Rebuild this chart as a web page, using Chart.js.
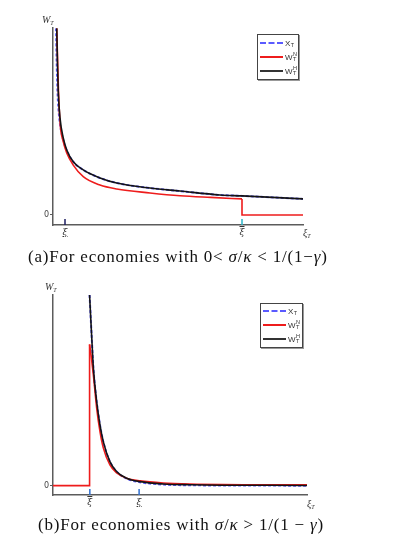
<!DOCTYPE html>
<html>
<head>
<meta charset="utf-8">
<script src="https://cdn.jsdelivr.net/npm/chart.js@4.4.0/dist/chart.umd.min.js"></script>
<style>
  body { margin: 0; background: #fff; }
  #page { position: relative; width: 404px; height: 547px; overflow: hidden; }
  .panel { position: absolute; left: 0; width: 404px; height: 245px; }
  .lbl { position: absolute; font-family: "Liberation Serif", serif; font-style: italic; font-size: 10px; color: #333; line-height: 10px; white-space: nowrap; }
  .lbl sub { font-size: 6px; vertical-align: -2px; }
  .xi { position: absolute; transform: translateX(-50%); font-family: "DejaVu Serif", serif; font-style: italic; font-size: 9px; line-height: 9px; color: #333; }
  .xi.under { text-decoration: underline; }
  .xi.over { text-decoration: overline; }
  .legend { position: absolute; border: 1px solid #444; box-shadow: 1px 1px 0 #999; background: #fff;
            font-family: "Liberation Sans", sans-serif; font-size: 8px; color: #333; }
  .row { height: 14px; display: flex; align-items: center; padding-left: 2px; }
  .sample { width: 23px; margin-right: 2px; }
  .ss { display: inline-flex; flex-direction: column; font-size: 5.5px; line-height: 5px; margin-left: 0.5px; }
  .caption { position: absolute; font-family: "Liberation Serif", serif; font-size: 17px; letter-spacing: 0.8px; line-height: 20px; color: #111; white-space: nowrap; }
</style>
</head>
<body>
<div id="page">
  <div class="panel" id="boxA" style="top:0px"><canvas id="chartA" width="404" height="245"></canvas></div>
  <div class="panel" id="boxB" style="top:270px"><canvas id="chartB" width="404" height="245"></canvas></div>

  <div class="lbl" style="left:42px; top:15px">W<sub>T</sub></div>
  <div class="lbl" style="left:303px; top:228px">ξ<sub>T</sub></div>
  <div class="lbl" style="left:45px; top:282px">W<sub>T</sub></div>
  <div class="lbl" style="left:307px; top:499px">ξ<sub>T</sub></div>

  <div class="legend" style="left:257px; top:34px; width:40px; height:43px; padding-top:1px">
    <div class="row"><span class="sample" style="border-top:2px dashed #5a5aff"></span>X<span class="ss"><span>&nbsp;</span><span>T</span></span></div>
    <div class="row"><span class="sample" style="height:1.5px; background:#ee1c1c"></span>W<span class="ss"><span>N</span><span>T</span></span></div>
    <div class="row"><span class="sample" style="height:1.5px; background:#333"></span>W<span class="ss"><span>H</span><span>T</span></span></div>
  </div>
  <div class="legend" style="left:260px; top:303px; width:41px; height:43px">
    <div class="row"><span class="sample" style="border-top:2px dashed #5a5aff"></span>X<span class="ss"><span>&nbsp;</span><span>T</span></span></div>
    <div class="row"><span class="sample" style="height:1.5px; background:#ee1c1c"></span>W<span class="ss"><span>N</span><span>T</span></span></div>
    <div class="row"><span class="sample" style="height:1.5px; background:#333"></span>W<span class="ss"><span>H</span><span>T</span></span></div>
  </div>

  <div class="caption" style="left:28px; top:247px">(a)For economies with 0&lt; <i>σ</i>/<i>κ</i> &lt; 1/(1−<i>γ</i>)</div>
  <div class="caption" style="left:38px; top:515px">(b)For economies with <i>σ</i>/<i>κ</i> &gt; 1/(1 − <i>γ</i>)</div>
</div>

<script>
// panel (a): 0 < sigma/kappa < 1/(1-gamma)
const xiA = [4.8, 75.6];
const xiKindsA = ['under', 'over'];
const xXA = [1.2, 1.5, 1.8, 2.5, 3.9, 5.4, 8.1, 12.1, 18.8, 25.5, 38.8, 50.8, 66.8, 75.6, 100];
const yXA = [99.8, 80, 65.9, 51.9, 41.2, 34.8, 28.5, 24.1, 19.8, 17.1, 14.4, 12.8, 10.7, 10.2, 8.6];
const xHA = [1.5, 1.8, 2.1, 2.8, 4.1, 5.5, 8.1, 12.1, 18.8, 25.5, 38.8, 50.8, 66.8, 75.6, 100];
const wHA = [99.8, 80, 65.9, 51.9, 41.2, 34.8, 28.5, 24.1, 19.8, 17.1, 14.4, 12.8, 10.7, 10.2, 8.6];
const xNA = [1.5, 2.2, 2.9, 4.1, 5.5, 8.1, 12.1, 18.8, 25.5, 38.8, 50.8, 63.0, 75.6, 75.6, 100];
const wNA = [99.8, 65.9, 48.1, 39.2, 33.2, 26.7, 20.5, 16.0, 13.9, 11.8, 10.3, 9.4, 8.6, 0, 0];

// panel (b): sigma/kappa > 1/(1-gamma)
const xiB = [14.5, 33.9];
const xiKindsB = ['over', 'under'];
const xHB = [14.4, 15.2, 15.9, 17.2, 18.5, 19.8, 22.4, 25.1, 29.0, 34.3, 43.4, 53.9, 100];
const wHB = [100, 79.0, 61.7, 44.0, 31.8, 23.1, 12.6, 7.3, 3.9, 2.1, 0.9, 0.5, 0.1];
const yXB = [100, 79.0, 61.7, 44.0, 31.8, 23.1, 12.6, 7.3, 3.7, 1.8, 0.6, 0.2, 0.0];
const xNB = [0, 14.4, 14.4, 15.2, 15.9, 17.2, 18.5, 19.8, 22.4, 25.1, 29.0, 34.3, 43.4, 53.9, 100];
const wNB = [0, 0, 74.1, 66.0, 58.0, 40.7, 28.3, 19.8, 10.9, 6.7, 3.9, 2.5, 1.4, 0.9, 0.4];

const BLUE = '#5a5aff', RED = '#ee1c1c', BLACK = '#141414', AXIS = '#5c5c5c';

function pts(xs, ys) {
    return xs.map((x, i) => ({ x: x, y: ys[i] }));
}

function curve(data, color, extra) {
    return Object.assign({
        data: data,
        showLine: true,
        borderColor: color,
        borderWidth: 1.6,
        pointRadius: 0,
        fill: false,
        cubicInterpolationMode: 'monotone'
    }, extra || {});
}

// small tick marks drawn upward from the x axis
const innerTicks = {
    id: 'innerTicks',
    afterDatasetsDraw(chart, args, opts) {
        const { ctx, chartArea } = chart;
        const x = chart.scales.x;
        opts.values.forEach((v, i) => {
            const px = x.getPixelForValue(v);
            ctx.save();
            ctx.strokeStyle = opts.colors[i];
            ctx.lineWidth = 1.5;
            ctx.beginPath();
            ctx.moveTo(px, chartArea.bottom);
            ctx.lineTo(px, chartArea.bottom - opts.len);
            ctx.stroke();
            ctx.restore();
        });
    }
};

function panel(id, datasets, yMin, xiVals, tickColors, padTop, padRight) {
    return new Chart(document.getElementById(id), {
        type: 'scatter',
        data: { datasets: datasets },
        plugins: [innerTicks],
        options: {
            responsive: false,
            animation: false,
            layout: { padding: { left: 33, right: padRight, top: padTop, bottom: 8 } },
            plugins: {
                legend: { display: false },
                tooltip: { enabled: false },
                innerTicks: { values: xiVals, colors: tickColors, len: 6 }
            },
            scales: {
                x: {
                    type: 'linear',
                    min: 0,
                    max: 100,
                    afterFit: s => { s.height = 12; },
                    afterBuildTicks: s => { s.ticks = xiVals.map(v => ({ value: v })); },
                    ticks: { display: false },
                    grid: { drawOnChartArea: false, drawTicks: false },
                    border: { color: AXIS, width: 1.5 }
                },
                y: {
                    min: yMin,
                    max: 100,
                    afterFit: s => { s.width = 20; },
                    afterBuildTicks: s => { s.ticks = [{ value: 0 }]; },
                    ticks: {
                        padding: 1,
                        color: '#444',
                        font: { family: 'DejaVu Sans', size: 8 },
                        callback: () => '0'
                    },
                    grid: { drawOnChartArea: false, tickLength: 3, tickColor: AXIS, tickWidth: 1 },
                    border: { color: AXIS, width: 1.5 }
                }
            }
        }
    });
}

// xi labels as text under the axis, placed by the chart's own x scale
function xiLabels(chart, boxId, vals, kinds) {
    const box = document.getElementById(boxId);
    vals.forEach((v, i) => {
        const el = document.createElement('span');
        el.className = 'xi ' + kinds[i];
        el.textContent = 'ξ';
        el.style.left = chart.scales.x.getPixelForValue(v) + 'px';
        el.style.top = (chart.chartArea.bottom + 3) + 'px';
        box.appendChild(el);
    });
}

// red series is split where it jumps, so the jump stays straight
const redA = pts(xNA, wNA);
const redB = pts(xNB, wNB);

const chartA = panel('chartA', [
    curve(pts(xHA, wHA), BLACK),
    curve(redA.slice(0, 13), RED),
    curve(redA.slice(12), RED, { cubicInterpolationMode: 'default', tension: 0 }),
    curve(pts(xXA, yXA), BLUE, { borderDash: [3, 2], borderWidth: 2 })
], -5.35, xiA, ['#1c1c60', '#2ab4c8'], 28, 101);

const chartB = panel('chartB', [
    curve(pts(xHB, wHB), BLACK),
    curve(redB.slice(2), RED),
    curve(redB.slice(0, 3), RED, { cubicInterpolationMode: 'default', tension: 0 }),
    curve(pts(xHB, yXB), BLUE, { borderDash: [3, 2], borderWidth: 2 })
], -4.9, xiB, ['#2f6fd0', '#2f6fd0'], 25, 97);

xiLabels(chartA, 'boxA', xiA, xiKindsA);
xiLabels(chartB, 'boxB', xiB, xiKindsB);
</script>
</body>
</html>
